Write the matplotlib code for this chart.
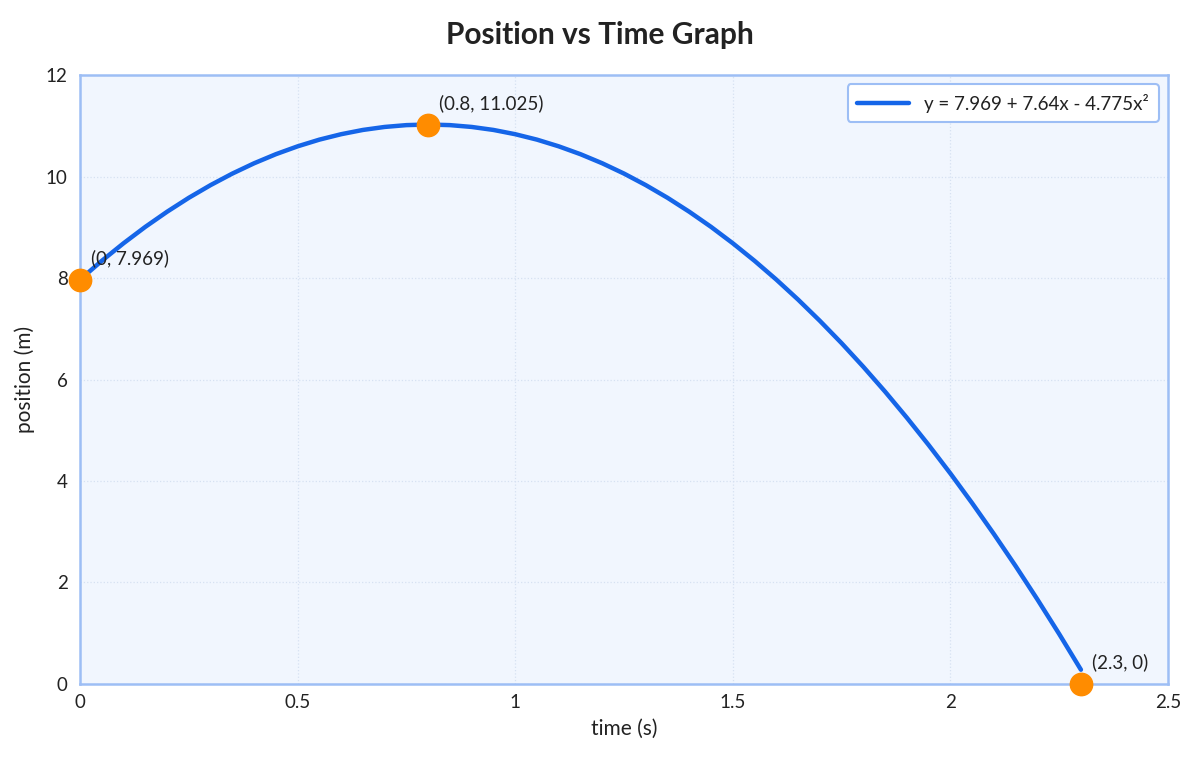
import matplotlib
matplotlib.use("Agg")
import matplotlib.pyplot as plt
from matplotlib.ticker import FuncFormatter

plt.rcParams["font.family"] = ["Lato", "DejaVu Sans"]

# ---------------------------------------------------------------------------
# Data
# ---------------------------------------------------------------------------
curve_label = "y = 7.969 + 7.64x - 4.775x²"
time_s = [0.0, 0.05, 0.1, 0.15, 0.2, 0.25, 0.3, 0.35, 0.4, 0.45, 0.5, 0.55,
          0.6, 0.65, 0.7, 0.75, 0.8, 0.85, 0.9, 0.95, 1.0, 1.05, 1.1, 1.15,
          1.2, 1.25, 1.3, 1.35, 1.4, 1.45, 1.5, 1.55, 1.6, 1.65, 1.7, 1.75,
          1.8, 1.85, 1.9, 1.95, 2.0, 2.05, 2.1, 2.15, 2.2, 2.25, 2.3]
position_m = [7.969, 8.339, 8.685, 9.008, 9.306, 9.581, 9.831, 10.058,
              10.261, 10.440, 10.595, 10.727, 10.834, 10.918, 10.977, 11.013,
              11.025, 11.013, 10.977, 10.918, 10.834, 10.727, 10.595, 10.440,
              10.261, 10.058, 9.831, 9.581, 9.306, 9.008, 8.685, 8.339,
              7.969, 7.575, 7.157, 6.716, 6.250, 5.761, 5.247, 4.710,
              4.149, 3.564, 2.955, 2.323, 1.666, 0.986, 0.281]

key_x = [0, 0.8, 2.3]
key_y = [7.969, 11.025, 0]
key_labels = ["(0, 7.969)", "(0.8, 11.025)", "(2.3, 0)"]

x_ticks = [0, 0.5, 1, 1.5, 2, 2.5]
y_ticks = [0, 2, 4, 6, 8, 10, 12]

LINE = "#1565E8"
POINT = "#FF8C00"
SPINE = "#9DBEF5"
FACE = "#F1F6FE"
TEXT = "#222222"

fig = plt.figure(figsize=(12, 7.61), dpi=100)
ax = fig.add_axes([0.0667, 0.1012, 0.9066, 0.8002])
ax.set_facecolor(FACE)

ax.plot(time_s, position_m, color=LINE, linewidth=3.2,
        solid_capstyle="round", label=curve_label, zorder=3)
ax.scatter(key_x, key_y, s=260, color=POINT, zorder=4, clip_on=False)
for x, y, lab in zip(key_x, key_y, key_labels):
    ax.annotate(lab, (x, y), xytext=(8, 9), textcoords="offset points",
                fontsize=13.5, color=TEXT, ha="left", va="bottom")

ax.set_xlim(0, 2.5)
ax.set_ylim(0, 12)
ax.set_xticks(x_ticks)
ax.set_yticks(y_ticks)
ax.xaxis.set_major_formatter(FuncFormatter(lambda v, _: f"{v:g}"))
ax.yaxis.set_major_formatter(FuncFormatter(lambda v, _: f"{v:g}"))
ax.tick_params(length=0, labelsize=13.5, labelcolor=TEXT, pad=7)
ax.tick_params(axis="y", pad=9)
ax.grid(True, color="#D6E1F2", linestyle=":", linewidth=0.9)
ax.set_axisbelow(True)
for s in ax.spines.values():
    s.set_color(SPINE)
    s.set_linewidth(1.8)

ax.set_xlabel("time (s)", fontsize=15, color=TEXT, labelpad=6)
ax.set_ylabel("position (m)", fontsize=15, color=TEXT, labelpad=8)
fig.suptitle("Position vs Time Graph", fontsize=21.5, fontweight="bold",
             color=TEXT, y=0.972)

leg = ax.legend(loc="upper right", fontsize=13.5, frameon=True,
                handlelength=2.8, borderpad=0.5, fancybox=True)
leg.get_frame().set_edgecolor(SPINE)
leg.get_frame().set_linewidth(1.5)
leg.get_frame().set_facecolor("white")
leg.get_frame().set_alpha(1)
for t in leg.get_texts():
    t.set_color(TEXT)

fig.savefig("out.png", dpi=100)
